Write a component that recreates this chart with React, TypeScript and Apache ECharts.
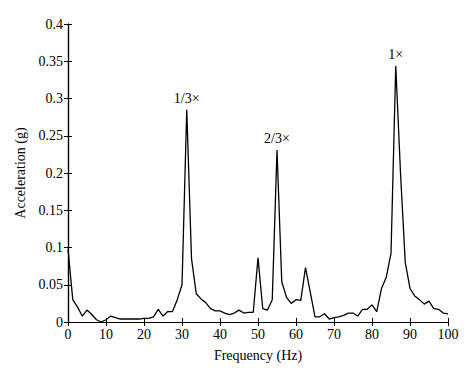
import React, { useEffect, useRef } from "react";
import * as echarts from "echarts";

const frequencies: number[] = [];
for (let i = 0; i <= 80; i++) frequencies.push(i * 1.25);

const acceleration = [
  0.098, 0.03, 0.02, 0.008, 0.016, 0.01, 0.003, 0.0, 0.003, 0.008,
  0.006, 0.004, 0.004, 0.004, 0.004, 0.004, 0.005, 0.005, 0.007, 0.017,
  0.008, 0.014, 0.014, 0.03, 0.05, 0.285, 0.085, 0.038, 0.031, 0.026,
  0.018, 0.015, 0.015, 0.012, 0.01, 0.012, 0.016, 0.012, 0.013, 0.013,
  0.086, 0.018, 0.016, 0.03, 0.231, 0.054, 0.033, 0.025, 0.03, 0.029,
  0.073, 0.04, 0.007, 0.007, 0.011, 0.004, 0.006, 0.007, 0.009, 0.012,
  0.012, 0.008, 0.017, 0.017, 0.023, 0.014, 0.045, 0.06, 0.092, 0.344,
  0.2, 0.08, 0.045, 0.035, 0.03, 0.024, 0.028, 0.018, 0.017, 0.012,
  0.011,
];

const peakLabels = [
  { name: "1/3×", freq: 31.25, value: 0.285 },
  { name: "2/3×", freq: 55, value: 0.231 },
  { name: "1×", freq: 86.25, value: 0.344 },
];

const FONT = "Liberation Serif";

export default function App() {
  const ref = useRef<HTMLDivElement>(null);
  useEffect(() => {
    if (!ref.current) return;
    const chart = echarts.init(ref.current, undefined, { renderer: "svg" });
    const axisLine = { show: true, lineStyle: { color: "#000", width: 1.2 } };
    const tick = { show: true, inside: true, length: 4, lineStyle: { color: "#000" } };
    const text = { fontFamily: FONT, fontSize: 14, color: "#000" };
    chart.setOption({
      animation: false,
      backgroundColor: "#fff",
      textStyle: { fontFamily: FONT },
      grid: { left: 68, right: 26, top: 24, bottom: 59 },
      xAxis: [
        {
          type: "value",
          min: 0,
          max: 100,
          interval: 10,
          name: "Frequency (Hz)",
          nameLocation: "middle",
          nameGap: 26,
          nameTextStyle: text,
          axisLine,
          axisTick: tick,
          axisLabel: { ...text, margin: 5 },
          splitLine: { show: false },
        },
        {
          type: "value",
          position: "top",
          min: 0,
          max: 100,
          interval: 10,
          axisLine,
          axisTick: tick,
          axisLabel: { show: false },
          splitLine: { show: false },
        },
      ],
      yAxis: [
        {
          type: "value",
          min: 0,
          max: 0.4,
          interval: 0.05,
          name: "Acceleration (g)",
          nameLocation: "middle",
          nameGap: 40,
          nameTextStyle: text,
          axisLine,
          axisTick: tick,
          axisLabel: { ...text, margin: 5 },
          splitLine: { show: false },
        },
        {
          type: "value",
          position: "right",
          min: 0,
          max: 0.4,
          interval: 0.05,
          axisLine,
          axisTick: tick,
          axisLabel: { show: false },
          splitLine: { show: false },
        },
      ],
      series: [
        {
          type: "line",
          xAxisIndex: 0,
          yAxisIndex: 0,
          data: frequencies.map((f, i) => [f, acceleration[i]]),
          showSymbol: false,
          symbol: "none",
          itemStyle: { color: "#000" },
          lineStyle: { color: "#000", width: 1.3 },
          markPoint: {
            symbol: "circle",
            symbolSize: 0,
            itemStyle: { color: "#000" },
            label: {
              show: true,
              position: "top",
              distance: 4,
              ...text,
              formatter: (p: any) => p.name,
            },
            data: peakLabels.map((p) => ({ name: p.name, coord: [p.freq, p.value] })),
          },
        },
      ],
    });
    return () => chart.dispose();
  }, []);
  return (
    <div
      ref={ref}
      style={{ position: "absolute", left: 0, top: 0, width: 474, height: 381 }}
    />
  );
}
